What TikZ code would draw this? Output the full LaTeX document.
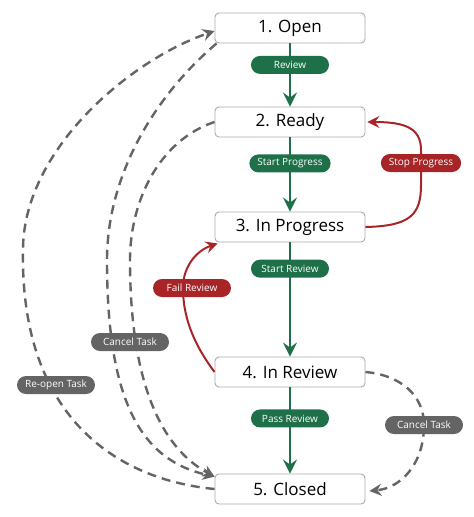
\documentclass[tikz,border=0pt]{standalone}
\usepackage{fontspec}
\setmainfont{Open Sans}
\usetikzlibrary{arrows.meta}
\definecolor{flowgreen}{RGB}{30,112,72}
\definecolor{flowred}{RGB}{168,36,38}
\definecolor{flowgray}{RGB}{100,100,100}
\definecolor{boxline}{RGB}{170,170,170}
\tikzset{
  statebox/.style={draw=boxline, line width=0.9pt, rounded corners=4pt, fill=white,
    minimum width=150pt, minimum height=30pt, inner sep=0pt,
    font=\fontsize{17}{20}\selectfont},
  pill/.style={rounded corners=9pt, text=white, minimum height=18pt, minimum width=78pt,
    inner xsep=8pt, inner ysep=0pt, font=\fontsize{10}{12}\selectfont},
  gpill/.style={pill, fill=flowgreen},
  rpill/.style={pill, fill=flowred},
  kpill/.style={pill, fill=flowgray},
  gline/.style={draw=flowgreen, line width=2.6pt, -{Stealth[length=14pt,width=14pt,inset=5pt]}},
  rline/.style={draw=flowred, line width=2pt, -{Stealth[length=12pt,width=12pt,inset=4.5pt]}},
  kline/.style={draw=flowgray, line width=2.4pt, dash pattern=on 9pt off 6pt,
    -{Stealth[length=12pt,width=12pt,inset=4pt]}},
}
\begin{document}
\begin{tikzpicture}[x=1pt,y=-1pt]
\useasboundingbox (0,0) rectangle (474,517);
\node[statebox] (open)   at (290,28)  {1. Open};
\node[statebox] (ready)  at (290,122) {2. Ready};
\node[statebox] (inprog) at (290,227) {3. In Progress};
\node[statebox] (inrev)  at (290,372) {4. In Review};
\node[statebox] (closed) at (290,489) {5. Closed};

% green forward transitions
\draw[gline] (open) -- node[gpill, pos=0.34] {Review} (ready);
\draw[gline] (ready) -- node[gpill, pos=0.35] {Start Progress} (inprog);
\draw[gline] (inprog) -- node[gpill, pos=0.23] {Start Review} (inrev);
\draw[gline] (inrev) -- node[gpill, pos=0.36] {Pass Review} (closed);

% red backward transitions
\draw[rline] (inprog.east) .. controls (410,226) and (421,215) .. (421,185)
  -- (421,150) .. controls (421,128) and (405,122) .. ([xshift=2pt]ready.east);
\node[rpill] (stoplbl) at (421,163) {Stop Progress};

\draw[rline] (inrev.west) .. controls (192,342) and (183,315) .. (183,288)
  .. controls (183,265) and (198,250) .. ([xshift=3pt,yshift=-1pt]inprog.south west);
\node[rpill] (faillbl) at (192,288) {Fail Review};

% gray dashed transitions
\draw[kline] (closed.west) .. controls (120,480) and (20,420) .. (23,250)
  .. controls (23,150) and (130,60) .. ([yshift=-3pt]open.west);
\node[kpill] (reopenlbl) at (56,385) {Re-open Task};

\draw[kline] ([xshift=2pt]open.south west) .. controls (150,100) and (107,180) .. (107,260)
  .. controls (107,400) and (140,460) .. ([yshift=-3pt]closed.north west);
\draw[kline] (ready.west) .. controls (160,140) and (130,200) .. (130,260)
  .. controls (130,390) and (165,450) .. ([yshift=-3pt]closed.north west);
\node[kpill] (cancellbl) at (130,342) {Cancel Task};

\draw[kline] (inrev.east) .. controls (400,375) and (424,395) .. (424,425)
  .. controls (424,465) and (400,488) .. ([xshift=4pt,yshift=-2pt]closed.east);
\node[kpill] (cancelrlbl) at (424,425) {Cancel Task};
\end{tikzpicture}
\end{document}
